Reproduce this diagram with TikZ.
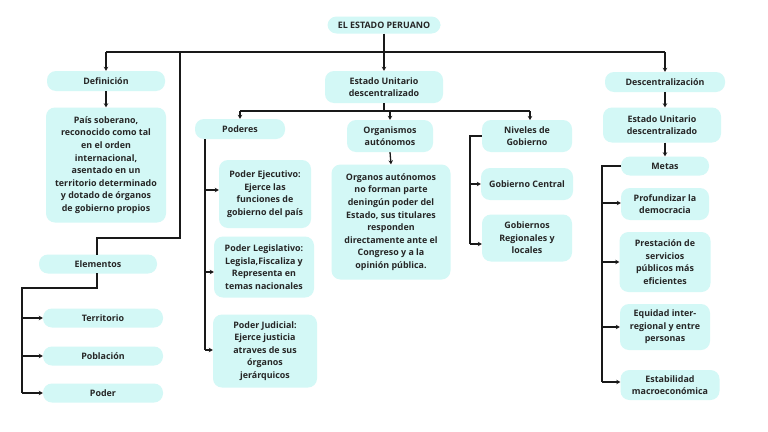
\documentclass[tikz,border=0pt]{standalone}
\usepackage{fontspec}
\setmainfont{Open Sans}
\usetikzlibrary{arrows.meta}
\definecolor{boxc}{HTML}{D3F8F6}
\tikzset{x=1pt,y=-1pt,
 box/.style={fill=boxc,rounded corners=9pt,align=center,font=\bfseries\fontsize{8.9}{12.6}\selectfont,inner sep=1pt,text=black!85},
 ln/.style={line width=1.3pt,black!90},
 ar/.style={ln,-{Stealth[length=4pt,width=4.5pt]}}}
\newcommand{\bx}[6]{\node[box,minimum width=#3,minimum height=#4] (#5) at (#1,#2) {#6};}
\begin{document}
\begin{tikzpicture}
\fill[white] (0,0) rectangle (768,431);
\bx{384}{25}{113}{17}{t}{EL ESTADO PERUANO}
\bx{106}{81}{118}{20}{def}{Definición}
\bx{106}{165}{120}{115}{deft}{País soberano,\\reconocido como tal\\en el orden\\internacional,\\asentado en un\\territorio determinado\\y dotado de órganos\\de gobierno propios}
\bx{98}{264}{118}{19}{ele}{Elementos}
\bx{103}{318}{120}{19}{ter}{Territorio}
\bx{103}{356}{120}{19}{pob}{Población}
\bx{103}{393}{120}{19}{pod}{Poder}
\bx{384}{87}{118}{32}{eu}{Estado Unitario\\descentralizado}
\bx{240}{129}{90}{20}{pds}{Poderes}
\bx{265}{194}{92}{68}{pe}{Poder Ejecutivo:\\Ejerce las\\funciones de\\gobierno del país}
\bx{264}{267}{100}{61}{pl}{Poder Legislativo:\\Legisla,Fiscaliza y\\Representa en\\temas nacionales}
\bx{265}{351}{104}{73}{pj}{Poder Judicial:\\Ejerce justicia\\atraves de sus\\órganos\\jerárquicos}
\bx{390}{136}{86}{32}{org}{Organismos\\autónomos}
\bx{391}{222}{119}{115}{orgt}{Organos autónomos\\no forman parte\\deningún poder del\\Estado, sus titulares\\responden\\directamente ante el\\Congreso y a la\\opinión pública.}
\bx{527}{136}{90}{32}{niv}{Niveles de\\Gobierno}
\bx{527}{184}{92}{32}{gc}{Gobierno Central}
\bx{527}{238}{90}{47}{gr}{Gobiernos\\Regionales y\\locales}
\bx{665}{82}{120}{20}{des}{Descentralización}
\bx{662}{125}{118}{35}{eu2}{Estado Unitario\\descentralizado}
\bx{665}{166}{88}{19}{met}{Metas}
\bx{665}{204}{88}{32}{m1}{Profundizar la\\democracia}
\bx{665}{262}{91}{60}{m2}{Prestación de\\servicios\\públicos más\\eficientes}
\bx{665}{327}{90}{46}{m3}{Equidad inter-\\regional y entre\\personas}
\bx{670}{385}{99}{30}{m4}{Estabilidad\\macroeconómica}
% top
\coordinate (L) at (106,52); \coordinate (R) at (665,52);
\draw[ln] (t.south) -- (384,52);
\draw[ln] (L) -- (R);
\draw[ar] (L) -- (def.north);
\draw[ar] (384,52) -- (eu.north);
\draw[ar] (R) -- (des.north);
\draw[ar] (def.south) -- (deft.north);
\draw[ln] (180,52) -- (180,238) -- (97,238) -- (97,255);
\draw[ln] (97,273) -- (97,288) -- (22,288) -- (22,393);
\foreach \n/\y in {ter/318,pob/356,pod/393} \draw[ar] (22,\y) -- (\n.west|-0,\y);
% middle
\draw[ln] (eu.south) -- (384,111);
\draw[ln] (240,111) -- (530,111);
\draw[ar] (240,111) -- (pds.north);
\draw[ar] (390,111) -- (org.north);
\draw[ar] (530,111) -- (530,120);
\draw[ar] (org.south) -- (orgt.north);
\draw[ln] (205,139) -- (205,350);
\draw[ar] (205,190) -- (pe.west|-0,190);
\draw[ar] (205,272) -- (pl.west|-0,272);
\draw[ar] (205,350) -- (pj.west|-0,350);
\draw[ln] (niv.west) -- (470,136) -- (470,244);
\draw[ar] (470,184) -- (gc.west);
\draw[ar] (470,244) -- (gr.west|-0,244);
% right
\draw[ar] (des.south) -- (eu2.north-|des.south);
\draw[ar] (eu2.south-|met.north) -- (met.north);
\draw[ln] (met.west) -- (602,166) -- (602,382);
\draw[ar] (602,203) -- (m1.west|-0,203);
\draw[ar] (602,262) -- (m2.west|-0,262);
\draw[ar] (602,327) -- (m3.west|-0,327);
\draw[ar] (602,382) -- (m4.west|-0,382);
\end{tikzpicture}
\end{document}
